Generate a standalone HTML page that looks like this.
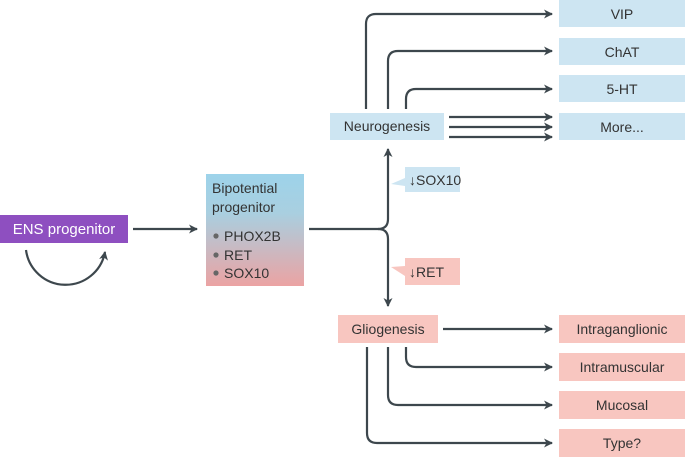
<!DOCTYPE html>
<html><head><meta charset="utf-8"><style>
html,body{margin:0;padding:0;background:#fff}
svg{display:block}
text{font-family:"Liberation Sans",sans-serif;font-size:14px;fill:#333}
</style></head><body>
<svg width="685" height="457" viewBox="0 0 685 457" xmlns="http://www.w3.org/2000/svg">
<defs>
<marker id="a" markerWidth="10" markerHeight="10" refX="8" refY="5" orient="auto" markerUnits="userSpaceOnUse">
<path d="M0,0.5 L9,5 L0,9.5 L2.5,5 Z" fill="#3d474d"/>
</marker>
<linearGradient id="g" x1="0" y1="0" x2="0" y2="1">
<stop offset="0" stop-color="#9dd3ea"/><stop offset="0.35" stop-color="#a9cfe0"/><stop offset="1" stop-color="#eba3a3"/>
</linearGradient>
</defs>
<g stroke="#3d474d" stroke-width="2.2" fill="none">
<!-- ENS loop -->
<path d="M26,250 A40,40 0 0 0 105,252" marker-end="url(#a)"/>
<line x1="133" y1="229" x2="197" y2="229" marker-end="url(#a)"/>
<!-- brace -->
<path d="M309,229 L378,229 Q388,229 388,219 L388,149" marker-end="url(#a)"/>
<path d="M378,229 Q388,229 388,239 L388,306" marker-end="url(#a)"/>
<!-- neuro -->
<path d="M366,109 L366,24 Q366,14 376,14 L552,14" marker-end="url(#a)"/>
<path d="M388,109 L388,61 Q388,51 398,51 L552,51" marker-end="url(#a)"/>
<path d="M406,109 L406,99 Q406,89 416,89 L552,89" marker-end="url(#a)"/>
<line x1="449" y1="117" x2="552" y2="117" marker-end="url(#a)"/>
<line x1="449" y1="127" x2="552" y2="127" marker-end="url(#a)"/>
<line x1="449" y1="137" x2="552" y2="137" marker-end="url(#a)"/>
<!-- glio -->
<line x1="443" y1="329" x2="552" y2="329" marker-end="url(#a)"/>
<path d="M406,347 L406,357 Q406,367 416,367 L552,367" marker-end="url(#a)"/>
<path d="M388,347 L388,395 Q388,405 398,405 L552,405" marker-end="url(#a)"/>
<path d="M367,347 L367,433 Q367,443 377,443 L552,443" marker-end="url(#a)"/>
</g>
<!-- boxes -->
<rect x="0" y="215" width="128" height="28" fill="#8e4fc0"/>
<text x="64" y="234" text-anchor="middle" style="fill:#fff;font-size:15px">ENS progenitor</text>
<rect x="206" y="174" width="98" height="112" fill="url(#g)"/>
<text x="212" y="193">Bipotential</text>
<text x="212" y="212">progenitor</text>
<g fill="#666"><circle cx="216" cy="236" r="2.6"/><circle cx="216" cy="255" r="2.6"/><circle cx="216" cy="273" r="2.6"/></g>
<text x="224" y="241">PHOX2B</text>
<text x="224" y="260">RET</text>
<text x="224" y="278">SOX10</text>

<rect x="330" y="113" width="114" height="27" fill="#cde5f2"/>
<text x="387" y="131" text-anchor="middle">Neurogenesis</text>
<rect x="338" y="315" width="100" height="28" fill="#f8c6c0"/>
<text x="388" y="334" text-anchor="middle">Gliogenesis</text>

<path d="M405,167 L460,167 L460,192 L405,192 L405,186 L391,184 L405,178 Z" fill="#cde5f2"/>
<text x="409" y="185">↓SOX10</text>
<path d="M405,258 L460,258 L460,285 L405,285 L405,276 L391,267 L405,266 Z" fill="#f8c6c0"/>
<text x="409" y="277">↓RET</text>

<g fill="#cde5f2">
<rect x="559" y="0" width="126" height="27"/><rect x="559" y="38" width="126" height="27"/>
<rect x="559" y="75" width="126" height="27"/><rect x="559" y="113" width="126" height="27"/>
</g>
<text x="622" y="19" text-anchor="middle">VIP</text>
<text x="622" y="57" text-anchor="middle">ChAT</text>
<text x="622" y="94" text-anchor="middle">5-HT</text>
<text x="622" y="132" text-anchor="middle">More...</text>
<g fill="#f8c6c0">
<rect x="559" y="315" width="126" height="28"/><rect x="559" y="353" width="126" height="28"/>
<rect x="559" y="391" width="126" height="28"/><rect x="559" y="429" width="126" height="28"/>
</g>
<text x="622" y="334" text-anchor="middle">Intraganglionic</text>
<text x="622" y="372" text-anchor="middle">Intramuscular</text>
<text x="622" y="410" text-anchor="middle">Mucosal</text>
<text x="622" y="448" text-anchor="middle">Type?</text>
</svg>
</body></html>
